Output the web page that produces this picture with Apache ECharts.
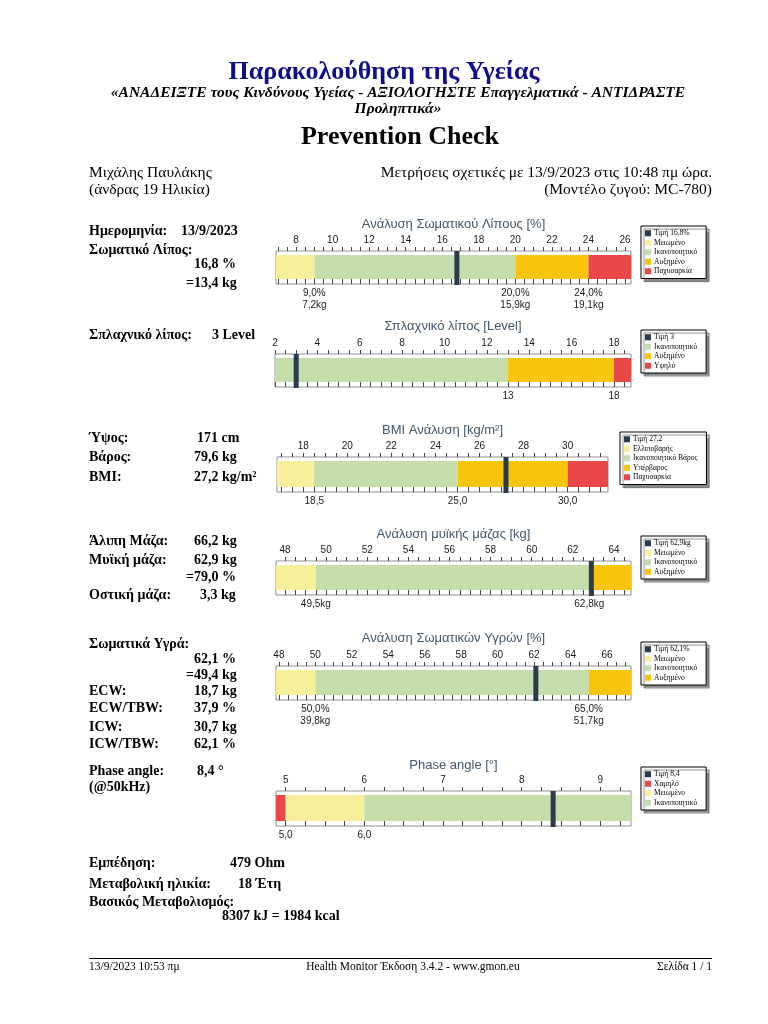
<!DOCTYPE html>
<html>
<head>
<meta charset="utf-8">
<script src="https://cdn.jsdelivr.net/npm/echarts@6/dist/echarts.min.js"></script>
<style>
html,body{margin:0;padding:0;background:#fff;}
#main{width:768px;height:1024px;}
</style>
</head>
<body>
<div id="main"></div>
<script>
// ---------------- DATA ----------------
// Body fat
const fatTitle = 'Ανάλυση Σωματικού Λίπους [%]';
const fatAxis = [6.9, 26.33];
const fatTickLabels = [8, 10, 12, 14, 16, 18, 20, 22, 24, 26];
const fatTickStep = 0.5;
const fatEdges = [9, 20, 24];
const fatEdgeLabels = ['9,0%\n7,2kg', '20,0%\n15,9kg', '24,0%\n19,1kg'];
const fatBands = ['Μειωμένο', 'Ικανοποιητικό', 'Αυξημένο', 'Παχυσαρκία'];
const fatValue = 16.8;
const fatValueLabel = 'Τιμή 16,8%';

// Visceral fat
const visTitle = 'Σπλαχνικό λίπος [Level]';
const visAxis = [2, 18.8];
const visTickLabels = [2, 4, 6, 8, 10, 12, 14, 16, 18];
const visTickStep = 0.5;
const visEdges = [13, 18];
const visEdgeLabels = ['13', '18'];
const visBands = ['Ικανοποιητικό', 'Αυξημένο', 'Υψηλό'];
const visValue = 3;
const visValueLabel = 'Τιμή 3';

// BMI
const bmiTitle = 'BMI Ανάλυση [kg/m²]';
const bmiAxis = [16.81, 31.83];
const bmiTickLabels = [18, 20, 22, 24, 26, 28, 30];
const bmiTickStep = 0.5;
const bmiEdges = [18.5, 25, 30];
const bmiEdgeLabels = ['18,5', '25,0', '30,0'];
const bmiBands = ['Ελλιποβαρής', 'Ικανοποιητικό Βάρος', 'Υπέρβαρος', 'Παχυσαρκία'];
const bmiValue = 27.2;
const bmiValueLabel = 'Τιμή 27,2';

// Muscle mass
const musTitle = 'Ανάλυση μυϊκής μάζας [kg]';
const musAxis = [47.56, 64.83];
const musTickLabels = [48, 50, 52, 54, 56, 58, 60, 62, 64];
const musTickStep = 0.5;
const musEdges = [49.5, 62.8];
const musEdgeLabels = ['49,5kg', '62,8kg'];
const musBands = ['Μειωμένο', 'Ικανοποιητικό', 'Αυξημένο'];
const musValue = 62.9;
const musValueLabel = 'Τιμή 62,9kg';

// Body water
const watTitle = 'Ανάλυση Σωματικών Υγρών [%]';
const watAxis = [47.84, 67.32];
const watTickLabels = [48, 50, 52, 54, 56, 58, 60, 62, 64, 66];
const watTickStep = 0.5;
const watEdges = [50, 65];
const watEdgeLabels = ['50,0%\n39,8kg', '65,0%\n51,7kg'];
const watBands = ['Μειωμένο', 'Ικανοποιητικό', 'Αυξημένο'];
const watValue = 62.1;
const watValueLabel = 'Τιμή 62,1%';

// Phase angle
const phaTitle = 'Phase angle [°]';
const phaAxis = [4.877, 9.39];
const phaTickLabels = [5, 6, 7, 8, 9];
const phaTickStep = 0.25;
const phaEdges = [5, 6];
const phaEdgeLabels = ['5,0', '6,0'];
const phaBands = ['Χαμηλό', 'Μειωμένο', 'Ικανοποιητικό'];
const phaValue = 8.4;
const phaValueLabel = 'Τιμή 8,4';

// ---------------- STYLE / LAYOUT ----------------
const bandColors = {
  'Μειωμένο': '#f7ef9b', 'Ελλιποβαρής': '#f7ef9b',
  'Ικανοποιητικό': '#c5dcab', 'Ικανοποιητικό Βάρος': '#c5dcab',
  'Αυξημένο': '#f9c40c', 'Υπέρβαρος': '#f9c40c',
  'Παχυσαρκία': '#e84848', 'Υψηλό': '#e84848', 'Χαμηλό': '#e84848'
};
const markerColor = '#2b3b4c';

const charts = [
  {title: fatTitle, axis: fatAxis, ticks: fatTickLabels, step: fatTickStep, edges: fatEdges, edgeLabels: fatEdgeLabels, bands: fatBands, value: fatValue, valueLabel: fatValueLabel,
   grid: {left: 276, top: 251, width: 355, height: 33}, titleY: 224, legend: {left: 641, top: 226}},
  {title: visTitle, axis: visAxis, ticks: visTickLabels, step: visTickStep, edges: visEdges, edgeLabels: visEdgeLabels, bands: visBands, value: visValue, valueLabel: visValueLabel,
   grid: {left: 275, top: 354, width: 356, height: 33}, titleY: 326, legend: {left: 641, top: 330}},
  {title: bmiTitle, axis: bmiAxis, ticks: bmiTickLabels, step: bmiTickStep, edges: bmiEdges, edgeLabels: bmiEdgeLabels, bands: bmiBands, value: bmiValue, valueLabel: bmiValueLabel,
   grid: {left: 277, top: 457, width: 331, height: 35}, titleY: 430, legend: {left: 620, top: 432}},
  {title: musTitle, axis: musAxis, ticks: musTickLabels, step: musTickStep, edges: musEdges, edgeLabels: musEdgeLabels, bands: musBands, value: musValue, valueLabel: musValueLabel,
   grid: {left: 276, top: 561, width: 355, height: 34}, titleY: 534, legend: {left: 641, top: 536}},
  {title: watTitle, axis: watAxis, ticks: watTickLabels, step: watTickStep, edges: watEdges, edgeLabels: watEdgeLabels, bands: watBands, value: watValue, valueLabel: watValueLabel,
   grid: {left: 276, top: 666, width: 355, height: 34}, titleY: 638, legend: {left: 641, top: 642}},
  {title: phaTitle, axis: phaAxis, ticks: phaTickLabels, step: phaTickStep, edges: phaEdges, edgeLabels: phaEdgeLabels, bands: phaBands, value: phaValue, valueLabel: phaValueLabel,
   grid: {left: 276, top: 791, width: 355, height: 35}, titleY: 765, legend: {left: 641, top: 767}}
];

const SERIF = '"Liberation Serif", "Times New Roman", serif';
const SANS = '"Liberation Sans", Arial, sans-serif';

// ---------------- PAGE TEXT ----------------
const headerTexts = [
  {x: 384, y: 72, t: 'Παρακολούθηση της Υγείας', font: 'bold 26px ' + SERIF, fill: '#0f0f8c', align: 'center'},
  {x: 398, y: 93, t: '«ΑΝΑΔΕΙΞΤΕ τους Κινδύνους Υγείας - ΑΞΙΟΛΟΓΗΣΤΕ Επαγγελματικά - ΑΝΤΙΔΡΑΣΤΕ', font: 'italic bold 15.5px ' + SERIF, fill: '#000', align: 'center'},
  {x: 398, y: 109, t: 'Προληπτικά»', font: 'italic bold 15.5px ' + SERIF, fill: '#000', align: 'center'},
  {x: 400, y: 137, t: 'Prevention Check', font: 'bold 26px ' + SERIF, fill: '#000', align: 'center'},
  {x: 89, y: 173, t: 'Μιχάλης Παυλάκης', font: 'normal 15.5px ' + SERIF, fill: '#000', align: 'left'},
  {x: 89, y: 190, t: '(άνδρας 19 Ηλικία)', font: 'normal 15.5px ' + SERIF, fill: '#000', align: 'left'},
  {x: 712, y: 173, t: 'Μετρήσεις σχετικές με 13/9/2023 στις 10:48 πμ ώρα.', font: 'normal 15.5px ' + SERIF, fill: '#000', align: 'right'},
  {x: 712, y: 190, t: '(Μοντέλο ζυγού: MC-780)', font: 'normal 15.5px ' + SERIF, fill: '#000', align: 'right'},
  {x: 89, y: 967, t: '13/9/2023 10:53 πμ', font: 'normal 11.5px ' + SERIF, fill: '#000', align: 'left'},
  {x: 413, y: 967, t: 'Health Monitor Έκδοση 3.4.2 - www.gmon.eu', font: 'normal 11.5px ' + SERIF, fill: '#000', align: 'center'},
  {x: 712, y: 967, t: 'Σελίδα 1 / 1', font: 'normal 11.5px ' + SERIF, fill: '#000', align: 'right'}
];

const infoTexts = [
  [89, 231, 'Ημερομηνία:'], [181, 231, '13/9/2023'],
  [89, 250, 'Σωματικό Λίπος:'],
  [194, 264, '16,8 %'], [186, 283, '=13,4 kg'],
  [89, 335, 'Σπλαχνικό λίπος:'], [212, 335, '3 Level'],
  [89, 438, 'Ύψος:'], [197, 438, '171 cm'],
  [89, 457, 'Βάρος:'], [194, 457, '79,6 kg'],
  [89, 477, 'BMI:'], [194, 477, '27,2 kg/m²'],
  [89, 541, 'Άλιπη Μάζα:'], [194, 541, '66,2 kg'],
  [89, 560, 'Μυϊκή μάζα:'], [194, 560, '62,9 kg'],
  [186, 577, '=79,0 %'],
  [89, 595, 'Οστική μάζα:'], [200, 595, '3,3 kg'],
  [89, 644, 'Σωματικά Υγρά:'],
  [194, 659, '62,1 %'], [186, 675, '=49,4 kg'],
  [89, 691, 'ECW:'], [194, 691, '18,7 kg'],
  [89, 708, 'ECW/TBW:'], [194, 708, '37,9 %'],
  [89, 727, 'ICW:'], [194, 727, '30,7 kg'],
  [89, 744, 'ICW/TBW:'], [194, 744, '62,1 %'],
  [89, 771, 'Phase angle:'], [197, 771, '8,4 °'],
  [89, 787, '(@50kHz)'],
  [89, 863, 'Εμπέδηση:'], [230, 863, '479 Ohm'],
  [89, 884, 'Μεταβολική ηλικία:'], [238, 884, '18 Έτη'],
  [89, 902, 'Βασικός Μεταβολισμός:'], [222, 916, '8307 kJ = 1984 kcal']
];

// ---------------- BUILD OPTION ----------------
function stepValues(axis, step) {
  const out = [];
  const start = Math.ceil(axis[0] / step - 1e-9) * step;
  for (let v = start; v <= axis[1] + 1e-9; v += step) out.push(+v.toFixed(4));
  return out;
}

function renderBand(params, api) {
  const cs = params.coordSys;
  const a = api.coord([api.value(0), 0]);
  const b = api.coord([api.value(1), 0]);
  return {type: 'rect', shape: {x: a[0], y: cs.y + 4, width: b[0] - a[0], height: cs.height - 9},
    style: {fill: api.visual('color')}};
}
function renderMarker(params, api) {
  const cs = params.coordSys;
  const p = api.coord([api.value(0), 0]);
  return {type: 'rect', shape: {x: p[0] - 2.5, y: cs.y, width: 5, height: cs.height + 1},
    style: {fill: api.visual('color')}};
}

const option = {
  animation: false,
  backgroundColor: '#fff',
  grid: [], xAxis: [], yAxis: [], series: [], legend: [], graphic: []
};

charts.forEach((c, i) => {
  option.grid.push(Object.assign({show: true, borderColor: '#8f8f8f', borderWidth: 1, backgroundColor: '#fff'}, c.grid));
  const minor = stepValues(c.axis, c.step);
  option.xAxis.push({
    gridIndex: i, type: 'value', position: 'top', min: c.axis[0], max: c.axis[1],
    axisLine: {show: false, onZero: false}, splitLine: {show: false},
    axisTick: {show: true, customValues: minor, length: 4, inside: false, lineStyle: {color: '#444', width: 1}},
    axisLabel: {customValues: c.ticks, margin: 6, fontSize: 10, color: '#1a1a1a', fontFamily: SANS}
  });
  option.xAxis.push({
    gridIndex: i, type: 'value', position: 'bottom', min: c.axis[0], max: c.axis[1],
    axisLine: {show: false, onZero: false}, splitLine: {show: false},
    axisTick: {show: true, customValues: minor, length: 6, inside: true, lineStyle: {color: '#444', width: 1}},
    axisLabel: {customValues: c.edges, margin: 3, fontSize: 10, lineHeight: 12, color: '#1a1a1a', fontFamily: SANS,
      formatter: v => { const k = c.edges.findIndex(e => Math.abs(e - v) < 1e-6); return k >= 0 ? c.edgeLabels[k] : ''; }}
  });
  option.yAxis.push({gridIndex: i, type: 'value', min: 0, max: 1, show: false});

  const bounds = [c.axis[0]].concat(c.edges, [c.axis[1]]);
  c.bands.forEach((name, k) => {
    option.series.push({
      type: 'custom', name: name, xAxisIndex: 2 * i, yAxisIndex: i,
      itemStyle: {color: bandColors[name]},
      encode: {x: [0, 1], y: 2},
      data: [[bounds[k], bounds[k + 1], 0]],
      renderItem: renderBand, z: 2
    });
  });
  option.series.push({
    type: 'custom', name: c.valueLabel, xAxisIndex: 2 * i, yAxisIndex: i,
    itemStyle: {color: markerColor},
    encode: {x: 0, y: 1},
    data: [[c.value, 0]],
    renderItem: renderMarker, z: 4
  });

  option.legend.push({
    left: c.legend.left, top: c.legend.top, orient: 'vertical',
    data: [c.valueLabel].concat(c.bands),
    icon: 'rect', itemWidth: 6, itemHeight: 6, itemGap: 1,
    selectedMode: false,
    textStyle: {fontFamily: SERIF, fontSize: 7.5, color: '#000', lineHeight: 8.5, padding: [0, 0, 0, -2]},
    backgroundColor: '#fff', borderColor: '#000', borderWidth: 1,
    padding: [3, 9, 3, 4],
    shadowColor: 'rgba(0,0,0,0.45)', shadowOffsetX: 3, shadowOffsetY: 3, shadowBlur: 1
  });

  option.graphic.push({
    type: 'text', x: c.grid.left + c.grid.width / 2, y: c.titleY,
    style: {text: c.title, font: 'normal 13px ' + SANS, fill: '#44566a', align: 'center', verticalAlign: 'middle'}
  });
});

headerTexts.forEach(h => {
  option.graphic.push({type: 'text', x: h.x, y: h.y,
    style: {text: h.t, font: h.font, fill: h.fill, align: h.align, verticalAlign: 'middle'}});
});
infoTexts.forEach(r => {
  option.graphic.push({type: 'text', x: r[0], y: r[1],
    style: {text: r[2], font: 'bold 14px ' + SERIF, fill: '#000', align: 'left', verticalAlign: 'middle'}});
});
option.graphic.push({type: 'line', shape: {x1: 89, y1: 958.5, x2: 712, y2: 958.5}, style: {stroke: '#000', lineWidth: 1}});

const chart = echarts.init(document.getElementById('main'), null, {renderer: 'canvas'});
chart.setOption(option);
</script>
</body>
</html>
